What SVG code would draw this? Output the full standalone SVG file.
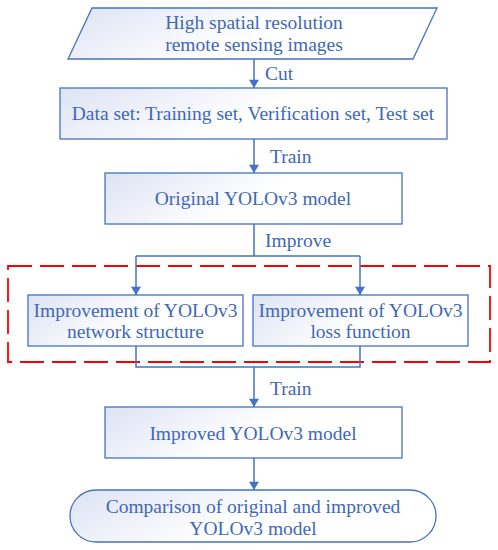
<svg xmlns="http://www.w3.org/2000/svg" width="498" height="550" viewBox="0 0 498 550">
<defs>
<linearGradient id="g" x1="0" y1="0" x2="1" y2="0.3">
<stop offset="0" stop-color="#dde3f4"/>
<stop offset="0.6" stop-color="#ffffff"/>
</linearGradient>
<marker id="a" viewBox="0 0 10 12" refX="10" refY="6" markerWidth="12" markerHeight="10" markerUnits="userSpaceOnUse" orient="auto">
<path d="M0,0 L10,6 L0,12 z" fill="#4472c4"/>
</marker>
<style>
.n{fill:url(#g);stroke:#4472c4;stroke-width:1.3}
.c{fill:none;stroke:#4472c4;stroke-width:1.5}
</style>
</defs>
<rect x="0" y="0" width="498" height="550" fill="#ffffff"/>
<g font-family="Liberation Serif, DejaVu Serif, serif" font-size="19.5" fill="#4068b8">
<g id="input" text-anchor="middle">
<path class="n" d="M92,8 L437,8 L413,59 L68,59 Z"/>
<text x="254" y="29">High spatial resolution</text>
<text x="254" y="51">remote sensing images</text>
</g>
<g id="dataset" text-anchor="middle">
<rect class="n" x="60" y="88" width="387" height="51"/>
<text x="253" y="120">Data set: Training set, Verification set, Test set</text>
</g>
<g id="original" text-anchor="middle">
<rect class="n" x="105" y="173" width="297" height="51"/>
<text x="253" y="205">Original YOLOv3 model</text>
</g>
<g id="group">
<rect x="8" y="266" width="482" height="96" fill="none" stroke="#ff0000" stroke-width="1.8" stroke-dasharray="24,8"/>
</g>
<g id="network" text-anchor="middle">
<rect class="n" x="28" y="295" width="215" height="51"/>
<text x="135.5" y="317">Improvement of YOLOv3</text>
<text x="135.5" y="338">network structure</text>
</g>
<g id="loss" text-anchor="middle">
<rect class="n" x="253" y="295" width="215" height="51"/>
<text x="360.5" y="317">Improvement of YOLOv3</text>
<text x="360.5" y="338">loss function</text>
</g>
<g id="improved" text-anchor="middle">
<rect class="n" x="105" y="407" width="297" height="51"/>
<text x="253" y="440">Improved YOLOv3 model</text>
</g>
<g id="compare" text-anchor="middle">
<rect class="n" x="70" y="490" width="366" height="52" rx="26" ry="26"/>
<text x="253" y="513">Comparison of original and improved</text>
<text x="253" y="535">YOLOv3 model</text>
</g>
<g id="connectors">
<path class="c" d="M254,59 V88" marker-end="url(#a)"/>
<path class="c" d="M254,139 V173" marker-end="url(#a)"/>
<path class="c" d="M254,224 V256 M136,256 H360"/>
<path class="c" d="M136,256 V295" marker-end="url(#a)"/>
<path class="c" d="M360,256 V295" marker-end="url(#a)"/>
<path class="c" d="M136,346 V367 H360 V346"/>
<path class="c" d="M254,367 V407" marker-end="url(#a)"/>
<path class="c" d="M254,458 V490" marker-end="url(#a)"/>
<text x="265" y="80">Cut</text>
<text x="270" y="163">Train</text>
<text x="265" y="247">Improve</text>
<text x="270" y="395">Train</text>
</g>
</g>
</svg>
